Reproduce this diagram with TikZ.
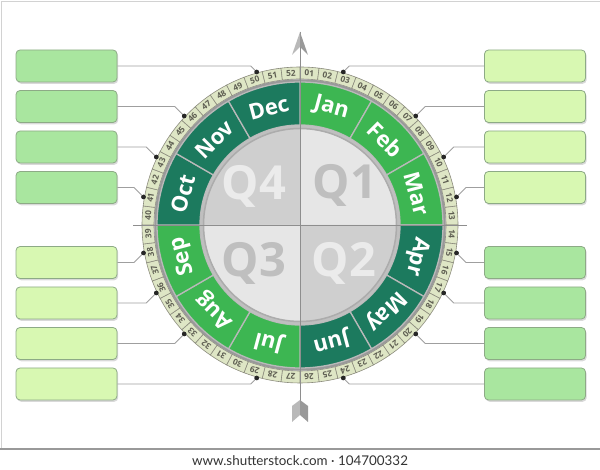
\documentclass[tikz,border=0pt]{standalone}
\usepackage{fontspec}
\setmainfont{Open Sans}
\newfontfamily\latofont{Lato}
\usetikzlibrary{shadows}
\definecolor{mlight}{HTML}{3DB652}
\definecolor{mdark}{HTML}{1C7A5E}
\definecolor{wcell}{HTML}{DEE6C5}
\definecolor{wline}{HTML}{8C8C7E}
\definecolor{wtext}{HTML}{5E5E52}
\definecolor{bgreen}{HTML}{A9E69F}
\definecolor{blime}{HTML}{D8F8B2}
\definecolor{bline}{HTML}{8DAA86}
\definecolor{qdark}{HTML}{CFCFCF}
\definecolor{qlight}{HTML}{E6E6E6}
\definecolor{axisgray}{HTML}{8E8E8E}
\begin{document}
\begin{tikzpicture}[x=1pt,y=1pt,
  infobox/.style={rectangle, rounded corners=4pt, minimum width=101pt, minimum height=32pt,
    draw=bline, line width=0.8pt,
    drop shadow={shadow xshift=1.2pt,shadow yshift=-1.8pt,opacity=0.3}},
  conn/.style={draw=gray!75, line width=0.8pt},
  pin/.style={circle, fill=black!85, inner sep=0pt, minimum size=4.5pt},
  weeknum/.style={font=\fontsize{8.3}{9}\selectfont\bfseries, text=wtext, inner sep=0pt},
  monthlbl/.style={font=\fontsize{22}{23}\selectfont\bfseries, text=white, inner sep=0pt},
  qlbl/.style={font=\fontsize{47}{47}\selectfont\bfseries, inner sep=0pt},
  axisline/.style={draw=axisgray, line width=0.9pt}
]
\useasboundingbox (0,0) rectangle (600,470);
% frame
\draw[gray!35, line width=0.8pt] (1,21) -- (1,469) -- (600,469);
\draw[gray!80, line width=1.2pt] (0,21) -- (600,21);
\node[font=\latofont\fontsize{13.4}{15}\selectfont, text=black!80] (wm) at (300,9) {www.shutterstock.com · 104700332};

% boxes
\foreach \n/\y in {1/404,2/363.5,3/323,4/282.5}{
  \node[infobox, fill=bgreen] (L\n) at (66.5,\y) {};
  \node[infobox, fill=blime] (R\n) at (535,\y) {};
}
\foreach \n/\y in {5/207.5,6/167,7/126.5,8/86}{
  \node[infobox, fill=blime] (L\n) at (66.5,\y) {};
  \node[infobox, fill=bgreen] (R\n) at (535,\y) {};
}

% ring
\begin{scope}[shift={(300,245)}]
\foreach \i in {1,...,52}{
  \pgfmathsetmacro\angA{90-(360/52)*(\i-1)}
  \pgfmathsetmacro\angB{90-(360/52)*\i}
  \pgfmathsetmacro\angM{90-(360/52)*(\i-0.5)}
  \filldraw[fill=wcell, draw=wline, line width=0.6pt] (\angA:146) -- (\angA:158)
    arc[start angle=\angA, end angle=\angB, radius=158] -- (\angB:146)
    arc[start angle=\angB, end angle=\angA, radius=146] -- cycle;
  \node[weeknum, rotate=\angM-90] (w\i) at (\angM:152) {\ifnum\i<10 0\fi\i};
}
\draw[gray!80, line width=2.5pt] (0,0) circle[radius=144.5];
\foreach \m/\nm/\cl in {1/Jan/mlight,2/Feb/mlight,3/Mar/mlight,4/Apr/mdark,5/May/mdark,6/Jun/mdark,7/Jul/mlight,8/Aug/mlight,9/Sep/mlight,10/Oct/mdark,11/Nov/mdark,12/Dec/mdark}{
  \pgfmathsetmacro\angA{90-(\m-1)*30}
  \pgfmathsetmacro\angB{90-\m*30}
  \pgfmathsetmacro\angM{90-(\m-0.5)*30}
  \filldraw[fill=\cl, draw=gray!55, line width=1.3pt] (\angA:100) -- (\angA:143)
    arc[start angle=\angA, end angle=\angB, radius=143] -- (\angB:100)
    arc[start angle=\angB, end angle=\angA, radius=100] -- cycle;
  \node[monthlbl, rotate=\angM-90] (m\m) at (\angM:121) {\nm};
}
% inner disc
\fill[gray!50] (0,0) circle[radius=100];
\fill[qlight] (0,0) -- (96,0) arc[start angle=0, end angle=90, radius=96] -- cycle;
\fill[qdark] (0,0) -- (0,96) arc[start angle=90, end angle=180, radius=96] -- cycle;
\fill[qlight] (0,0) -- (-96,0) arc[start angle=180, end angle=270, radius=96] -- cycle;
\fill[qdark] (0,0) -- (0,-96) arc[start angle=270, end angle=360, radius=96] -- cycle;
\draw[gray!65, line width=1.5pt] (0,0) circle[radius=96.5];
\node[qlbl, text=white!92!black] (q4) at (-46,39) {Q4};
\node[qlbl, text=black!25] (q1) at (45,40) {Q1};
\node[qlbl, text=black!25] (q3) at (-46,-38) {Q3};
\node[qlbl, text=white!92!black] (q2) at (44,-38) {Q2};
\end{scope}

% connector bends and pins
\foreach \s/\dx/\dy/\kx/\ky in {
  L1/256.7/398/250.7/404, L2/184.2/354/174.7/363.5, L3/156.3/313/146.3/323, L4/143.5/273/134/282.5,
  L5/143.5/217/134/207.5, L6/156.3/177/146.3/167, L7/184.2/136/174.7/126.5, L8/256.7/92/250.7/86,
  R1/343.3/398/349.3/404, R2/415.8/354/425.3/363.5, R3/443.7/313/453.7/323, R4/456.5/273/466/282.5,
  R5/456.5/217/466/207.5, R6/443.7/177/453.7/167, R7/415.8/136/425.3/126.5, R8/343.3/92/349.3/86}{
  \coordinate (k\s) at (\kx,\ky);
  \node[pin] (d\s) at (\dx,\dy) {};
}
\foreach \s in {L1,L2,L3,L4,L5,L6,L7,L8}{
  \draw[conn] (\s.east) -- (k\s) -- (d\s.center);
  \node[pin] at (d\s) {};
}
\foreach \s in {R1,R2,R3,R4,R5,R6,R7,R8}{
  \draw[conn] (\s.west) -- (k\s) -- (d\s.center);
  \node[pin] at (d\s) {};
}

% axes
\coordinate (tip) at (300,438);
\coordinate (tail) at (300,55);
\coordinate (hl) at (133,245);
\coordinate (hr) at (467,245);
\draw[axisline] (tip) -- (tail);
\draw[axisline] (hl) -- (hr);
% arrow head
\fill[gray!55] (tip) -- (292,415) -- (300,423) -- cycle;
\fill[gray!80] (tip) -- (308,415) -- (300,423) -- cycle;
% fletching
\fill[gray!55] (292,64) -- (300,70) -- (300,55) -- (292,48) -- cycle;
\fill[gray!80] (308,64) -- (300,70) -- (300,55) -- (308,48) -- cycle;
\end{tikzpicture}
\end{document}
